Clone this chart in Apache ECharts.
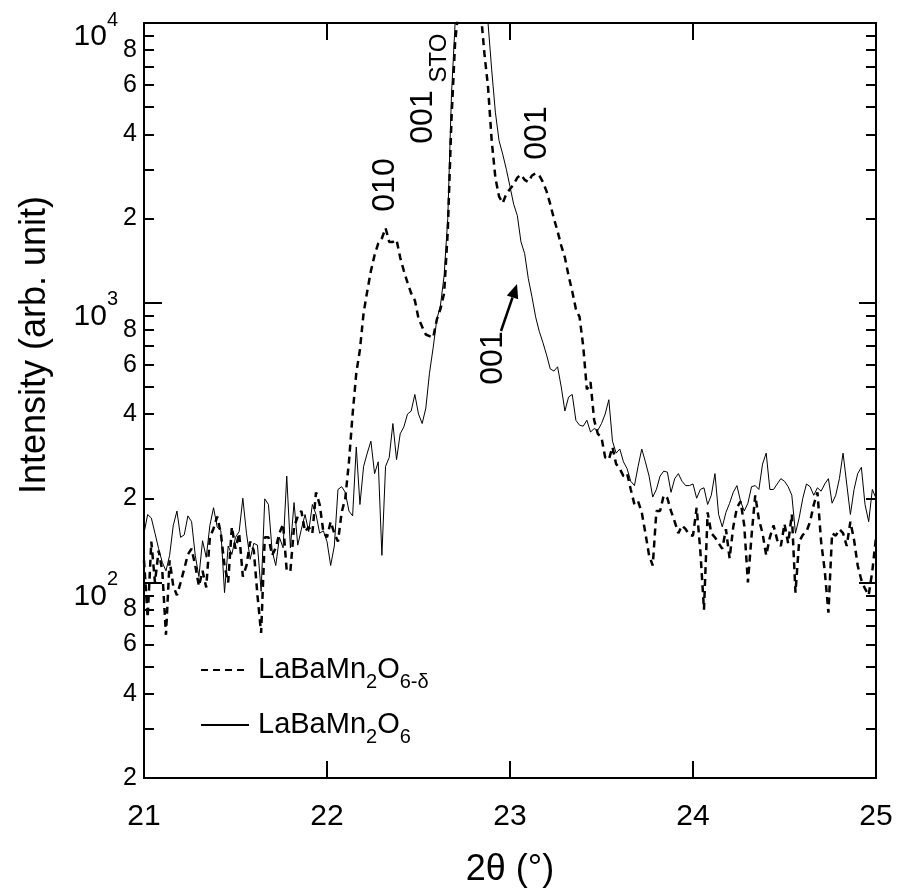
<!DOCTYPE html>
<html><head><meta charset="utf-8">
<script src="https://cdn.jsdelivr.net/npm/echarts@6/dist/echarts.min.js"></script>
<style>html,body{margin:0;padding:0;background:#fff}#c{width:897px;height:893px}</style>
</head><body><div id="c"></div>
<script>
// ---- data ----
const xStart = 21;
const xStep = 0.02;
const dashedName = 'LaBaMn2O6-δ';
const solidName = 'LaBaMn2O6';
const dashedVals = [
120,75,140,100,130,110,65,120,97,90,
100,112,126,132,115,97,110,96,145,156,
172,150,115,100,158,132,150,105,115,140,
130,90,66,145,145,125,133,150,162,110,
110,158,172,180,152,158,150,210,190,152,
145,165,150,140,178,200,270,400,560,680,
920,1100,1300,1480,1630,1700,1850,1650,1650,1680,
1450,1300,1180,1080,1020,880,820,770,760,750,
870,950,1080,1800,4500,8500,11500,25000,60000,90000,
70000,30000,11000,7800,5900,3800,2800,2400,2270,2450,
2550,2650,2800,2870,2750,2700,2850,2900,2850,2700,
2500,2250,2000,1800,1600,1450,1250,1100,950,890,
700,490,520,380,340,330,280,275,305,265,
255,240,245,215,190,195,178,150,125,115,
180,180,205,200,180,165,150,160,155,148,
147,185,130,80,178,150,145,138,132,155,
122,158,185,195,160,100,147,205,168,150,
125,145,160,142,135,162,138,175,92,140,
148,152,165,190,210,140,110,78,150,147,
155,150,135,165,142,115,102,95,90,110,
145];
const solidVals = [
150,175,170,150,132,118,110,125,160,180,
145,148,173,165,125,105,141,123,160,185,
158,153,92,135,126,145,152,200,150,121,
138,136,93,199,190,130,115,145,133,240,
133,193,136,155,175,152,190,175,150,153,
140,115,135,215,220,210,180,173,305,190,
260,290,320,245,270,125,260,280,370,275,
340,360,400,410,470,400,370,420,560,690,
870,980,1250,2000,5500,10000,16000,30000,60000,90000,
90000,55000,28000,15000,10000,6800,4800,3800,3400,3000,
2600,2250,2050,1650,1500,1220,1050,890,790,720,
650,580,570,590,500,410,460,470,380,365,
362,380,345,355,350,370,400,450,320,290,
300,270,255,230,222,260,300,270,240,202,
215,240,250,248,210,235,245,230,222,222,
225,200,215,218,190,205,245,175,158,178,
192,210,222,195,180,192,220,222,215,265,
290,215,215,225,235,230,220,205,150,170,
200,225,220,205,218,212,225,235,192,205,
235,290,225,175,215,245,258,190,165,215,
200];
const xTickValues = [21,22,23,24,25];
const yMantissaLabels = [20,40,60,80,200,400,600,800,2000,4000,6000,8000];
const yDecadeLabels = [100,1000,10000];
const yMajorTicks = [100,1000];
const yMinorTicks = [30,40,50,60,70,80,90,200,300,400,500,600,700,800,900,2000,3000,4000,5000,6000,7000,8000,9000];
const yMin = 20, yMax = 10000;

// ---- chart ----
const FF = '"Liberation Sans", Arial, Helvetica, sans-serif';
const lg = Math.log10;
const toSeries = vals => vals.map((v, i) => [xStart + i * xStep, lg(v)]);

function mantLabel(v) {
  return String(Math.round(Math.pow(10, v) / Math.pow(10, Math.floor(v + 1e-9))));
}
function decLabel(v) {
  return '{b|10}{s|' + Math.round(v) + '}';
}

const axisLineStyle = { show: true, lineStyle: { color: '#000', width: 2 } };
function yAx(pos, ticks, len, labelKind) {
  let axisLabel = { show: false };
  if (labelKind === 'mant') {
    axisLabel = {
      show: true, customValues: yMantissaLabels.map(lg), formatter: mantLabel, margin: 7,
      showMinLabel: true, showMaxLabel: true, hideOverlap: false,
      color: '#000', fontFamily: FF, fontSize: 25, padding: [4, 0, 0, 0]
    };
  } else if (labelKind === 'dec') {
    axisLabel = {
      show: true, customValues: yDecadeLabels.map(lg), formatter: decLabel, margin: 7,
      showMinLabel: true, showMaxLabel: true, hideOverlap: false,
      color: '#000', fontFamily: FF, padding: [16, 0, 0, 0],
      rich: {
        b: { fontSize: 30, lineHeight: 30, padding: [12, 0, 0, 0], color: '#000', fontFamily: FF },
        s: { fontSize: 20, lineHeight: 20, padding: [0, 19, 22, 0], color: '#000', fontFamily: FF }
      }
    };
  }
  return {
    type: 'value', position: pos, min: lg(yMin), max: lg(yMax),
    axisLine: axisLineStyle,
    splitLine: { show: false },
    axisTick: { show: true, inside: true, length: len, customValues: ticks.map(lg), lineStyle: { color: '#000', width: 2 } },
    axisLabel: axisLabel
  };
}
function xAx(pos, withLabels) {
  return {
    type: 'value', position: pos, min: 21, max: 25, interval: 1,
    axisLine: axisLineStyle,
    splitLine: { show: false },
    axisTick: { show: true, inside: true, length: 17, customValues: xTickValues, lineStyle: { color: '#000', width: 2 } },
    axisLabel: withLabels ? { show: true, customValues: xTickValues, fontSize: 30, color: '#000', fontFamily: FF, margin: 24 } : { show: false },
    name: withLabels ? '2θ (°)' : '',
    nameLocation: 'middle', nameGap: 74,
    nameTextStyle: { fontSize: 36, color: '#000', fontFamily: FF }
  };
}

const chart = echarts.init(document.getElementById('c'), null, { renderer: 'canvas' });
const option = {
  animation: false,
  backgroundColor: '#fff',
  grid: { left: 144, right: 21, top: 23, bottom: 114, containLabel: false },
  xAxis: [xAx('bottom', true), xAx('top', false)],
  yAxis: [
    yAx('left', yMinorTicks, 10, 'mant'),
    yAx('left', yMajorTicks, 18, 'dec'),
    yAx('right', yMinorTicks, 10, null),
    yAx('right', yMajorTicks, 17, null)
  ],
  legend: {
    orient: 'vertical', left: 195, top: 643, itemWidth: 48, itemHeight: 14, itemGap: 11,
    data: [dashedName, solidName],
    itemStyle: { opacity: 0 },
    formatter: name => name === dashedName
      ? '{f|LaBaMn}{u|2}{t|O}{u|6-δ}'
      : '{f|LaBaMn}{u|2}{t|O}{u|6}',
    textStyle: {
      color: '#000', fontFamily: FF,
      rich: {
        f: { fontSize: 29, lineHeight: 30, padding: [0, 0, 0, 4], color: '#000', fontFamily: FF },
        t: { fontSize: 29, lineHeight: 30, color: '#000', fontFamily: FF },
        u: { fontSize: 20, lineHeight: 20, padding: [24, 0, 0, 0], color: '#000', fontFamily: FF }
      }
    }
  },
  series: [
    {
      name: dashedName, type: 'line', data: toSeries(dashedVals), symbol: 'none', showSymbol: false,
      clip: true, z: 3,
      lineStyle: { color: '#000', width: 2.5, type: [7, 5] }, itemStyle: { color: '#000' }
    },
    {
      name: solidName, type: 'line', data: toSeries(solidVals), symbol: 'none', showSymbol: false,
      clip: true, z: 2,
      lineStyle: { color: '#000', width: 1 }, itemStyle: { color: '#000' }
    }
  ],
  graphic: [
    { type: 'text', x: 35, y: 345, rotation: Math.PI / 2,
      style: { text: 'Intensity (arb. unit)', fontSize: 36, fontFamily: FF, fill: '#000', align: 'center', verticalAlign: 'middle' } },
    { type: 'text', x: 385, y: 185, rotation: Math.PI / 2,
      style: { text: '010', fontSize: 32, fontFamily: FF, fill: '#000', align: 'center', verticalAlign: 'middle' } },
    { type: 'text', x: 423, y: 117, rotation: Math.PI / 2,
      style: { text: '001', fontSize: 32, fontFamily: FF, fill: '#000', align: 'center', verticalAlign: 'middle' } },
    { type: 'text', x: 439, y: 58, rotation: Math.PI / 2,
      style: { text: 'STO', fontSize: 24, fontFamily: FF, fill: '#000', align: 'center', verticalAlign: 'middle' } },
    { type: 'text', x: 537, y: 133, rotation: Math.PI / 2,
      style: { text: '001', fontSize: 32, fontFamily: FF, fill: '#000', align: 'center', verticalAlign: 'middle' } },
    { type: 'text', x: 493, y: 358, rotation: Math.PI / 2,
      style: { text: '001', fontSize: 32, fontFamily: FF, fill: '#000', align: 'center', verticalAlign: 'middle' } },
    { type: 'line', shape: { x1: 501, y1: 331, x2: 512.5, y2: 297.5 }, style: { stroke: '#000', lineWidth: 2.5 } },
    { type: 'polygon', shape: { points: [[517, 284], [518.2, 299.2], [506.8, 295.4]] }, style: { fill: '#000' } }
  ]
};
chart.setOption(option);
</script>
</body></html>
